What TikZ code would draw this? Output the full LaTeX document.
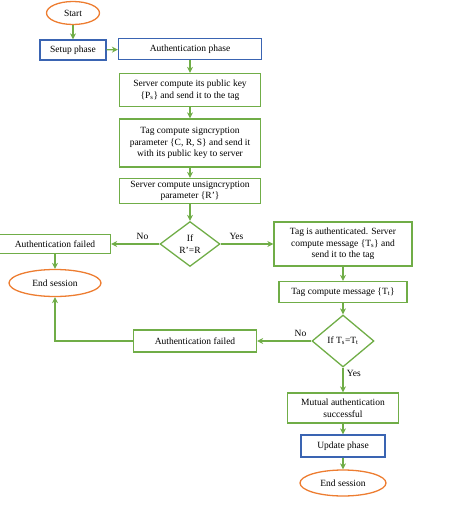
\documentclass[tikz,border=0pt]{standalone}
\usepackage{fontspec}
\setmainfont{Liberation Serif}
\usetikzlibrary{arrows.meta,positioning,shapes.geometric}
\definecolor{flowgreen}{RGB}{112,173,71}
\definecolor{flowblue}{RGB}{58,100,178}
\definecolor{floworange}{RGB}{237,125,49}

\begin{document}
\begin{tikzpicture}[
    x=1pt, y=-1pt,
    font=\fontsize{9.5}{11.5}\selectfont,
    terminal/.style={ellipse, draw=floworange, line width=1.3pt, inner sep=0pt},
    phase/.style={rectangle, draw=flowblue, line width=1.3pt, inner sep=1pt},
    process/.style={rectangle, draw=flowgreen, line width=1.3pt, align=center, inner sep=1pt},
    decision/.style={diamond, draw=flowgreen, line width=1.3pt, align=center, inner sep=0pt},
    arrow/.style={-{Stealth[length=6pt,width=6pt]}, line width=1.3pt, draw=flowgreen}
]
    \useasboundingbox (0,0) rectangle (474,506);

    % Column 1: setup and authentication
    \node[terminal, minimum width=53pt, minimum height=23pt] (start) at (73,13) {Start};
    \node[phase, minimum width=66pt, minimum height=20pt] (setup) at (73,50) {Setup phase};
    \node[phase, minimum width=143pt, minimum height=21pt] (auth) at (190,49) {Authentication phase};
    \node[process, minimum width=141pt, minimum height=33pt] (pubkey) at (190,90)
        {Server compute its public key\\ \{P\textsubscript{s}\} and send it to the tag};
    \node[process, minimum width=141pt, minimum height=48pt] (signcrypt) at (190,143)
        {Tag compute signcryption\\ parameter \{C, R, S\} and send it\\ with its public key to server};
    \node[process, minimum width=141pt, minimum height=25pt] (unsign) at (190,191)
        {Server compute unsigncryption\\ parameter \{R'\}};
    \node[decision, minimum width=60pt, minimum height=45pt] (checkR) at (190,244) {If\\ R'=R};

    % Left: failure branch
    \node[process, minimum width=111pt, minimum height=19pt] (failA) at (55,244) {Authentication failed};
    \node[terminal, minimum width=92pt, minimum height=27pt] (endA) at (55,283) {End session};

    % Right: tag authenticated branch
    \node[process, minimum width=138pt, minimum height=44pt] (tagok) at (343,244)
        {Tag is authenticated. Server\\ compute message \{T\textsubscript{s}\} and\\ send it to the tag};
    \node[process, minimum width=128pt, minimum height=21pt] (tagmsg) at (343,292) {Tag compute message \{T\textsubscript{t}\}};
    \node[decision, minimum width=62pt, minimum height=52pt] (checkT) at (343,341) {If T\textsubscript{s}=T\textsubscript{t}};
    \node[process, minimum width=123pt, minimum height=22pt] (failB) at (195,341) {Authentication failed};
    \node[process, minimum width=111pt, minimum height=30pt] (mutual) at (343,408)
        {Mutual authentication\\ successful};
    \node[phase, minimum width=84pt, minimum height=22pt] (update) at (343,446) {Update phase};
    \node[terminal, minimum width=86pt, minimum height=26pt] (endB) at (343,483) {End session};

    % Arrows
    \draw[arrow] (start) -- (setup);
    \draw[arrow] (setup) -- (auth);
    \draw[arrow] (auth) -- (pubkey);
    \draw[arrow] (pubkey) -- (signcrypt);
    \draw[arrow] (signcrypt) -- (unsign);
    \draw[arrow] (unsign) -- (checkR);
    \draw[arrow] (checkR.west) -- node[above, pos=0.35] {No} (failA.east);
    \draw[arrow] (checkR.east) -- node[above, pos=0.3] {Yes} (tagok.west);
    \draw[arrow] (failA) -- (endA);
    \draw[arrow] (tagok) -- (tagmsg);
    \draw[arrow] (tagmsg) -- (checkT);
    \draw[arrow] (checkT.west) -- node[above, pos=0.2] {No} (failB.east);
    \draw[arrow] (failB.west) -| (endA.south);
    \draw[arrow] (checkT.south) -- node[right, pos=0.25] {Yes} (mutual.north);
    \draw[arrow] (mutual) -- (update);
    \draw[arrow] (update) -- (endB);
\end{tikzpicture}
\end{document}
